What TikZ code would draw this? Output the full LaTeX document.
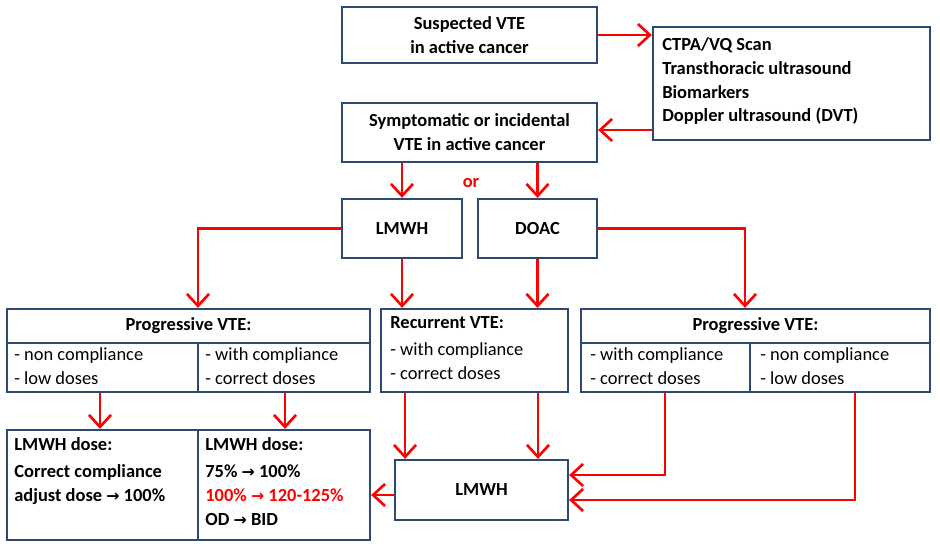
\documentclass[tikz,border=0pt]{standalone}
\usepackage{fontspec}
\setmainfont{Carlito}
\newfontfamily\arrfont{DejaVu Sans}
\usetikzlibrary{positioning,arrows.meta,calc}
\newcommand{\ra}{{\arrfont\bfseries\small →}}
\definecolor{boxblue}{HTML}{2F4A72}
\definecolor{arrred}{HTML}{FF0000}

\begin{document}
\begin{tikzpicture}[x=0.02cm, y=-0.02cm,
    font=\fontsize{10.5pt}{13.6pt}\selectfont\bfseries,
    box/.style={rectangle, draw=boxblue, line width=1.3pt, inner sep=0pt, align=center},
    txt/.style={anchor=north west, inner sep=0pt, align=left},
    arrow/.style={-{Straight Barb[length=2.4mm, width=4.4mm, line width=1.5pt]}, draw=arrred, line width=1.6pt}]
    \useasboundingbox (0,0) rectangle (940,547);

    % top part
    \node[box, minimum width=5.1cm, minimum height=1.12cm] (susp) at (469.5,35) {Suspected VTE\\in active cancer};
    \node[box, minimum width=5.54cm, minimum height=2.26cm] (ctpa) at (791.5,83.5) {};
    \node[txt] (ctpatxt) at (662,37) {CTPA/VQ Scan\\Transthoracic ultrasound\\Biomarkers\\Doppler ultrasound (DVT)};
    \node[box, minimum width=5.1cm, minimum height=1.18cm] (sympt) at (469.5,132.5) {Symptomatic or incidental\\VTE in active cancer};
    \node[box, minimum width=2.4cm, minimum height=1.18cm] (lmwh) at (402,228.5) {LMWH};
    \node[box, minimum width=2.38cm, minimum height=1.18cm] (doac) at (537.5,228.5) {DOAC};
    \node[text=arrred] (or) at (471,183) {or};

    % middle row
    \node[box, minimum width=7.26cm, minimum height=1.66cm] (progL) at (188.5,350.5) {};
    \draw[boxblue, line width=1.3pt] (progL.west |- 0,343) -- (progL.east |- 0,343);
    \draw[boxblue, line width=1.3pt] (198,343) -- (198,0 |- progL.south);
    \node (progLhd) at (188.5,326) {Progressive VTE:};
    \node[txt, font=\fontsize{10.5pt}{13.6pt}\selectfont] (progLa) at (14,347) {- non compliance\\- low doses};
    \node[txt, font=\fontsize{10.5pt}{13.6pt}\selectfont] (progLb) at (205,347) {- with compliance\\- correct doses};

    \node[box, minimum width=3.74cm, minimum height=1.66cm] (rec) at (474.5,350.5) {};
    \node[txt] (rechd) at (390,316) {Recurrent VTE:};
    \node[txt, font=\fontsize{10.5pt}{13.6pt}\selectfont] (recb) at (390,342) {- with compliance\\- correct doses};

    \node[box, minimum width=6.98cm, minimum height=1.66cm] (progR) at (755.5,350.5) {};
    \draw[boxblue, line width=1.3pt] (progR.west |- 0,343) -- (progR.east |- 0,343);
    \draw[boxblue, line width=1.3pt] (750,343) -- (750,0 |- progR.south);
    \node (progRhd) at (755.5,326) {Progressive VTE:};
    \node[txt, font=\fontsize{10.5pt}{13.6pt}\selectfont] (progRa) at (590,347) {- with compliance\\- correct doses};
    \node[txt, font=\fontsize{10.5pt}{13.6pt}\selectfont] (progRb) at (760,347) {- non compliance\\- low doses};

    % bottom row
    \node[box, minimum width=7.26cm, minimum height=2.2cm] (doseL) at (188.5,485) {};
    \draw[boxblue, line width=1.3pt] (198,0 |- doseL.north) -- (198,0 |- doseL.south);
    \node[txt] (doseLa) at (14,437) {LMWH dose:\\[2pt]Correct compliance\\adjust dose \ra\ 100\%};
    \node[txt] (doseLb) at (205,437) {LMWH dose:\\[2pt]75\% \ra\ 100\%\\\textcolor{arrred}{100\% \ra\ 120-125\%}\\OD \ra\ BID};
    \node[box, minimum width=3.46cm, minimum height=1.2cm] (lmwh2) at (481.5,490) {LMWH};

    % connectors
    \draw[arrow] (susp.east) -- (ctpa.west |- susp.east);
    \draw[arrow] (ctpa.west |- 0,130) -- (sympt.east |- 0,130);
    \draw[arrow] (sympt.south -| lmwh) -- (lmwh.north);
    \draw[arrow] (sympt.south -| doac) -- (doac.north);
    \draw[arrow] (lmwh.west) -| (198,0 |- progL.north);
    \draw[arrow] (doac.east) -| (745,0 |- progR.north);
    \draw[arrow] (lmwh.south) -- (lmwh.south |- rec.north);
    \draw[arrow] (doac.south) -- (doac.south |- rec.north);
    \draw[arrow] (100,0 |- progL.south) -- (100,0 |- doseL.north);
    \draw[arrow] (285,0 |- progL.south) -- (285,0 |- doseL.north);
    \draw[arrow] (405,0 |- rec.south) -- (405,0 |- lmwh2.north);
    \draw[arrow] (538,0 |- rec.south) -- (538,0 |- lmwh2.north);
    \draw[arrow] (665,0 |- progR.south) |- (lmwh2.east |- 0,475);
    \draw[arrow] (855,0 |- progR.south) |- (lmwh2.east |- 0,500);
    \draw[arrow] (lmwh2.west |- 0,495) -- (doseL.east |- 0,495);
\end{tikzpicture}
\end{document}
